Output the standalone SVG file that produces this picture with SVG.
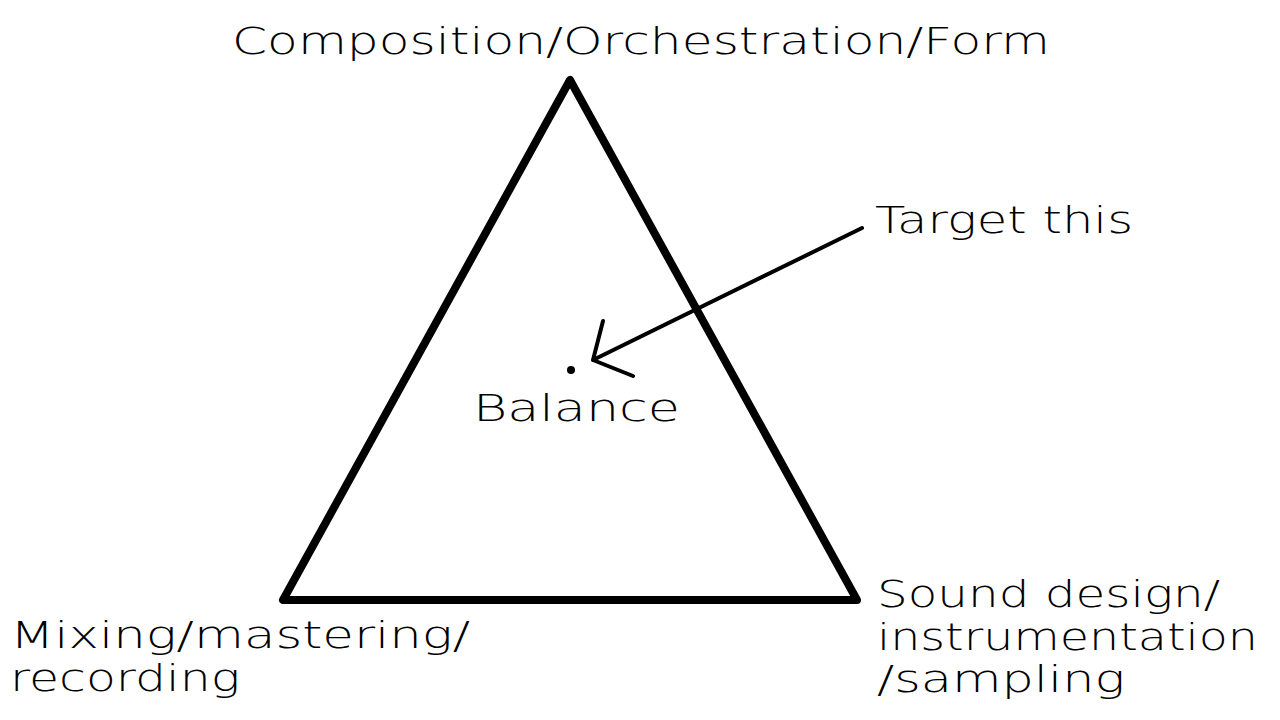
<svg xmlns="http://www.w3.org/2000/svg" width="1280" height="720" viewBox="0 0 1280 720">
<style>
text{font-family:"DejaVu Sans","Liberation Sans",sans-serif;font-size:38px;font-weight:300;fill:#000;}
.ln{stroke:#000;fill:none;stroke-linecap:round;stroke-linejoin:round;}
</style>
<rect width="1280" height="720" fill="#fff"/>
<g id="triangle">
<polygon class="ln" points="570,80 283,600 857,600" stroke-width="8"/>
</g>
<g id="top-label"><text x="232" y="54" textLength="818" lengthAdjust="spacingAndGlyphs">Composition/Orchestration/Form</text></g>
<g id="balance">
<circle cx="571" cy="370" r="4" fill="#000"/>
<text x="473" y="421" textLength="207" lengthAdjust="spacingAndGlyphs">Balance</text>
</g>
<g id="target"><text x="875" y="233" textLength="258" lengthAdjust="spacingAndGlyphs">Target this</text></g>
<g id="left-label">
<text x="10" y="648" textLength="460" lengthAdjust="spacingAndGlyphs">Mixing/mastering/</text>
<text x="10" y="691" textLength="230" lengthAdjust="spacingAndGlyphs">recording</text>
</g>
<g id="right-label">
<text x="877" y="607" textLength="343" lengthAdjust="spacingAndGlyphs">Sound design/</text>
<text x="877" y="650" textLength="381" lengthAdjust="spacingAndGlyphs">instrumentation</text>
<text x="877" y="692" textLength="248" lengthAdjust="spacingAndGlyphs">/sampling</text>
</g>
<g id="connectors">
<path class="ln" d="M862,228 L593,360 M603,321 L593,360 L633,376" stroke-width="4"/>
</g>
</svg>
